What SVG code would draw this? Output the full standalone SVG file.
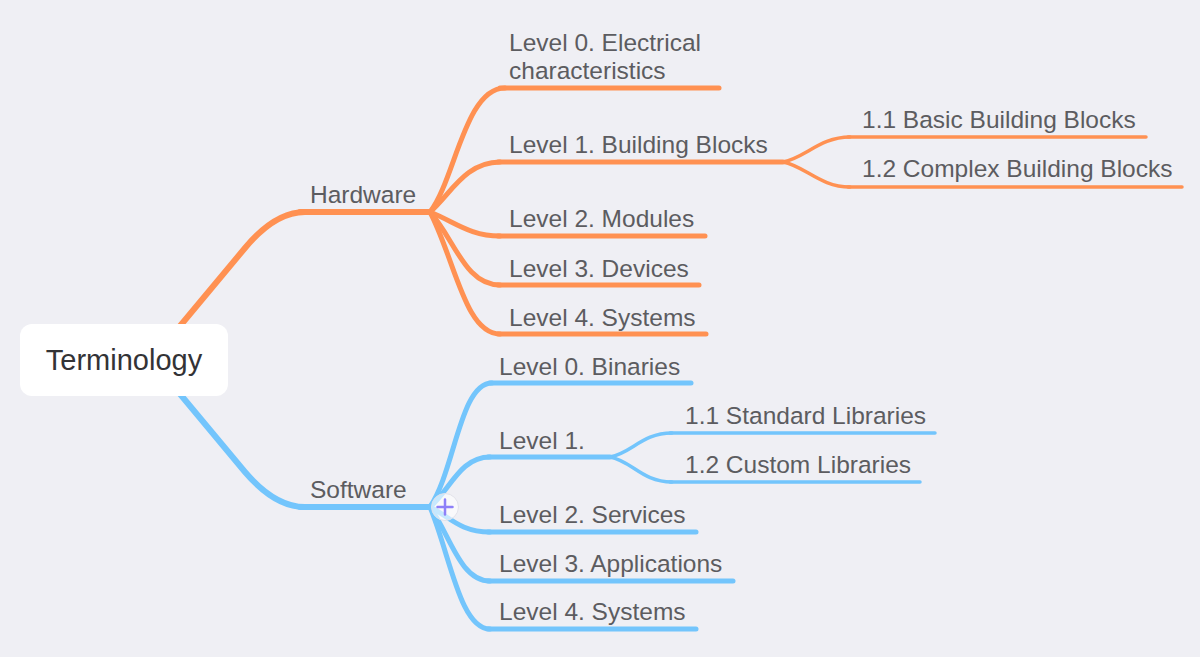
<svg xmlns="http://www.w3.org/2000/svg" width="1200" height="657" viewBox="0 0 1200 657">
<style>
.t{font-family:"Liberation Sans",Arial,Helvetica,sans-serif;font-size:24.5px;fill:#5c5c60}
.root{font-family:"Liberation Sans",Arial,Helvetica,sans-serif;font-size:29px;fill:#333336}
.o{stroke:#ff9152;fill:none;stroke-linecap:round;stroke-linejoin:round}
.b{stroke:#73c5fc;fill:none;stroke-linecap:round;stroke-linejoin:round}
.w1{stroke-width:6}
.w2{stroke-width:5}
.w3{stroke-width:3.5}
</style>
<rect width="1200" height="657" fill="#efeff4"/>
<g id="connectors">
  <path class="o w1" d="M165,344 L245,248 Q275,212 305,212"/>
  <path class="b w1" d="M165,376 L245,472 Q275,507 305,507"/>
  <path class="o w2" d="M430,212 C455,180 465,88 505,88"/>
  <path class="o w2" d="M430,212 C450,195 465,162 500,162"/>
  <path class="o w2" d="M430,212 C455,222 470,236 500,236"/>
  <path class="o w2" d="M430,212 C455,240 465,285 500,285"/>
  <path class="o w2" d="M430,212 C455,260 465,334 500,334"/>
  <path class="o w3" d="M783,162 C805,158 820,137 850,137"/>
  <path class="o w3" d="M783,162 C805,166 820,187 850,187"/>
  <path class="b w2" d="M430,507 C455,470 460,383 492,383"/>
  <path class="b w2" d="M430,507 C450,490 460,457 490,457"/>
  <path class="b w2" d="M430,507 C450,517 460,532 490,532"/>
  <path class="b w2" d="M430,507 C450,535 460,581 490,581"/>
  <path class="b w2" d="M430,507 C450,555 460,629 490,629"/>
  <path class="b w3" d="M610,457 C632,453 642,433 672,433"/>
  <path class="b w3" d="M610,457 C632,461 642,482 672,482"/>
</g>
<g id="terminology">
  <rect x="20" y="324" width="208" height="72" rx="12" fill="#ffffff"/>
  <text class="root" x="124" y="370" text-anchor="middle">Terminology</text>
</g>
<g id="hardware">
  <line class="o w1" x1="300" y1="212" x2="430" y2="212"/>
  <text class="t" x="310" y="203">Hardware</text>
</g>
<g id="hw-level0">
  <line class="o w2" x1="500" y1="88" x2="719" y2="88"/>
  <text class="t" x="509" y="51">Level 0. Electrical</text>
  <text class="t" x="509" y="79">characteristics</text>
</g>
<g id="hw-level1">
  <line class="o w2" x1="498" y1="162" x2="783" y2="162"/>
  <text class="t" x="509" y="153">Level 1. Building Blocks</text>
</g>
<g id="hw-level1-1">
  <line class="o w3" x1="848" y1="137" x2="1146" y2="137"/>
  <text class="t" x="862" y="128">1.1 Basic Building Blocks</text>
</g>
<g id="hw-level1-2">
  <line class="o w3" x1="848" y1="187" x2="1182" y2="187"/>
  <text class="t" x="862" y="177">1.2 Complex Building Blocks</text>
</g>
<g id="hw-level2">
  <line class="o w2" x1="498" y1="236" x2="705" y2="236"/>
  <text class="t" x="509" y="227">Level 2. Modules</text>
</g>
<g id="hw-level3">
  <line class="o w2" x1="498" y1="285" x2="699" y2="285"/>
  <text class="t" x="509" y="277">Level 3. Devices</text>
</g>
<g id="hw-level4">
  <line class="o w2" x1="498" y1="334" x2="706" y2="334"/>
  <text class="t" x="509" y="326">Level 4. Systems</text>
</g>
<g id="software">
  <line class="b w1" x1="300" y1="507" x2="430" y2="507"/>
  <text class="t" x="310" y="498">Software</text>
</g>
<g id="sw-level0">
  <line class="b w2" x1="490" y1="383" x2="691" y2="383"/>
  <text class="t" x="499" y="375">Level 0. Binaries</text>
</g>
<g id="sw-level1">
  <line class="b w2" x1="488" y1="457" x2="610" y2="457"/>
  <text class="t" x="499" y="449">Level 1.</text>
</g>
<g id="sw-level1-1">
  <line class="b w3" x1="670" y1="433" x2="935" y2="433"/>
  <text class="t" x="685" y="424">1.1 Standard Libraries</text>
</g>
<g id="sw-level1-2">
  <line class="b w3" x1="670" y1="482" x2="920" y2="482"/>
  <text class="t" x="685" y="473">1.2 Custom Libraries</text>
</g>
<g id="sw-level2">
  <line class="b w2" x1="488" y1="532" x2="696" y2="532"/>
  <text class="t" x="499" y="523">Level 2. Services</text>
</g>
<g id="sw-level3">
  <line class="b w2" x1="488" y1="581" x2="733" y2="581"/>
  <text class="t" x="499" y="572">Level 3. Applications</text>
</g>
<g id="sw-level4">
  <line class="b w2" x1="488" y1="629" x2="696" y2="629"/>
  <text class="t" x="499" y="620">Level 4. Systems</text>
</g>
<g id="add-button">
  <circle cx="445" cy="507" r="13.5" fill="#ffffff" fill-opacity="0.6" stroke="#e2e2ea" stroke-width="1"/>
  <path d="M437.5,507 H452.5 M445,499.5 V514.5" stroke="#8e80f8" stroke-width="2.5" stroke-linecap="round" fill="none"/>
</g>
</svg>
